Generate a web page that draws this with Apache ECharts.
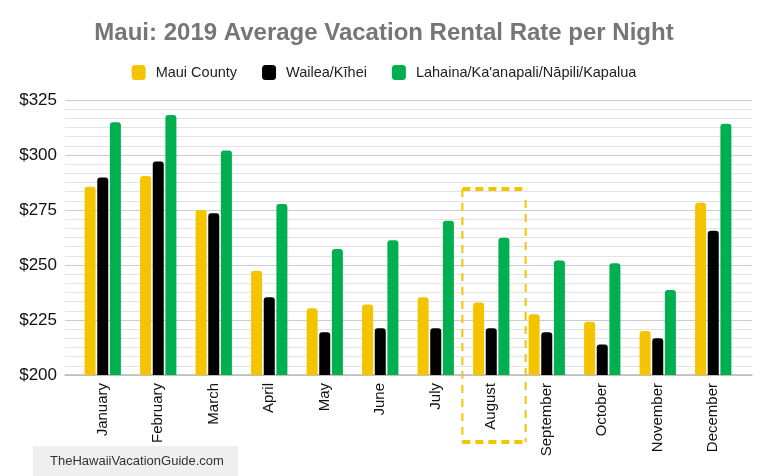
<!DOCTYPE html>
<html>
<head>
<meta charset="utf-8">
<script src="https://cdn.jsdelivr.net/npm/echarts@6/dist/echarts.min.js"></script>
<style>
  html, body { margin: 0; padding: 0; background: #fff; }
  #chart { width: 768px; height: 476px; }
</style>
</head>
<body>
<div id="chart"></div>
<script>
// values
var months = ['January', 'February', 'March', 'April', 'May', 'June', 'July',
  'August', 'September', 'October', 'November', 'December'];
var mauiCounty = [285.6, 290.5, 275, 247.4, 230.3, 232.1, 235.3, 233, 227.6, 224.2, 220, 278.3];
var waileaKihei = [289.8, 297.1, 273.5, 235.3, 219.4, 221.2, 221.2, 221.2, 219.4, 213.9, 216.7, 265.6];
var lahaina = [314.9, 318.2, 302, 277.7, 257.3, 261.2, 270.1, 262.4, 252, 250.8, 238.6, 314.2];
var seriesNames = ['Maui County', 'Wailea/Kīhei', 'Lahaina/Ka\'anapali/Nāpili/Kapalua'];
var colors = ['#f5c400', '#000000', '#00b050'];
var highlightMonth = 'August';

var el = document.getElementById('chart');
var myChart = echarts.init(el, null, { renderer: 'canvas' });

function barSeries(name, data, color) {
  return {
    name: name,
    type: 'bar',
    xAxisIndex: 1,
    yAxisIndex: 1,
    data: data,
    barWidth: 11,
    barGap: '15%',
    itemStyle: { color: color, borderRadius: [3, 3, 0, 0] }
  };
}

var option = {
  animation: false,
  color: colors,
  title: {
    text: 'Maui: 2019 Average Vacation Rental Rate per Night',
    left: 'center',
    top: 16,
    textStyle: { fontFamily: 'Liberation Sans', fontSize: 24, fontWeight: 'bold', color: '#767676' }
  },
  legend: {
    top: 60,
    left: 'center',
    itemWidth: 14,
    itemHeight: 15,
    itemGap: 25,
    icon: 'roundRect',
    textStyle: { fontFamily: 'Liberation Sans', fontSize: 14.5, color: '#222', padding: [0, 0, 0, 5] },
    data: seriesNames
  },
  grid: [
    { left: 65, right: 16, top: 100, bottom: 101 },
    { left: 75, right: 27, top: 100, bottom: 101 }
  ],
  xAxis: [
    {
      type: 'category', gridIndex: 0, data: months,
      axisLine: { lineStyle: { color: '#bbbbbb', width: 1.5 } },
      axisTick: { show: false }, axisLabel: { show: false }
    },
    {
      type: 'category', gridIndex: 1, data: months,
      axisLine: { show: false }, axisTick: { show: false },
      axisLabel: {
        rotate: 90, margin: 8, interval: 0,
        fontFamily: 'Liberation Sans', fontSize: 15, color: '#111'
      }
    }
  ],
  yAxis: [
    {
      type: 'value', gridIndex: 0, min: 200, max: 325, interval: 25,
      axisLine: { show: false }, axisTick: { show: false },
      axisLabel: {
        margin: 8, fontFamily: 'Liberation Sans', fontSize: 17, color: '#111',
        formatter: function (v) { return '$' + v; }
      },
      splitLine: { lineStyle: { color: '#cccccc', width: 1.2 } },
      minorTick: { show: false, splitNumber: 6 },
      minorSplitLine: { show: true, lineStyle: { color: '#e3e3e3', width: 1.2 } }
    },
    {
      type: 'value', gridIndex: 1, min: 200, max: 325, interval: 25, show: false,
      splitLine: { show: false }
    }
  ],
  series: [
    barSeries(seriesNames[0], mauiCounty, colors[0]),
    barSeries(seriesNames[1], waileaKihei, colors[1]),
    barSeries(seriesNames[2], lahaina, colors[2])
  ]
};

myChart.setOption(option);

// dashed highlight box around August, placed with the chart's own scales
var cx = myChart.convertToPixel({ xAxisIndex: 1 }, highlightMonth);
var yTop = myChart.convertToPixel({ yAxisIndex: 1 }, 284.5);
var yBot = myChart.convertToPixel({ yAxisIndex: 1 }, 169.5);
var band = (768 - 75 - 27) / months.length;
var x0 = cx - band * 0.52, x1 = cx + band * 0.62;
var dashColor = '#f5c400';

myChart.setOption({
  graphic: [
    { type: 'line', shape: { x1: x0, y1: yTop, x2: x1, y2: yTop },
      style: { stroke: dashColor, lineWidth: 4, lineDash: [8, 5] } },
    { type: 'line', shape: { x1: x0, y1: yBot, x2: x1, y2: yBot },
      style: { stroke: dashColor, lineWidth: 4, lineDash: [8, 5] } },
    { type: 'line', shape: { x1: x0, y1: yTop, x2: x0, y2: yBot },
      style: { stroke: dashColor, lineWidth: 2, lineDash: [8, 6] } },
    { type: 'line', shape: { x1: x1, y1: yTop + 11, x2: x1, y2: yBot },
      style: { stroke: dashColor, lineWidth: 2, lineDash: [8, 6] } },
    { type: 'rect', shape: { x: 33, y: 446, width: 205, height: 30 },
      style: { fill: '#efefef' } },
    { type: 'text', x: 50, y: 461,
      style: { text: 'TheHawaiiVacationGuide.com', fill: '#333', font: '13px "Liberation Sans"', textVerticalAlign: 'middle' } }
  ]
});
</script>
</body>
</html>
